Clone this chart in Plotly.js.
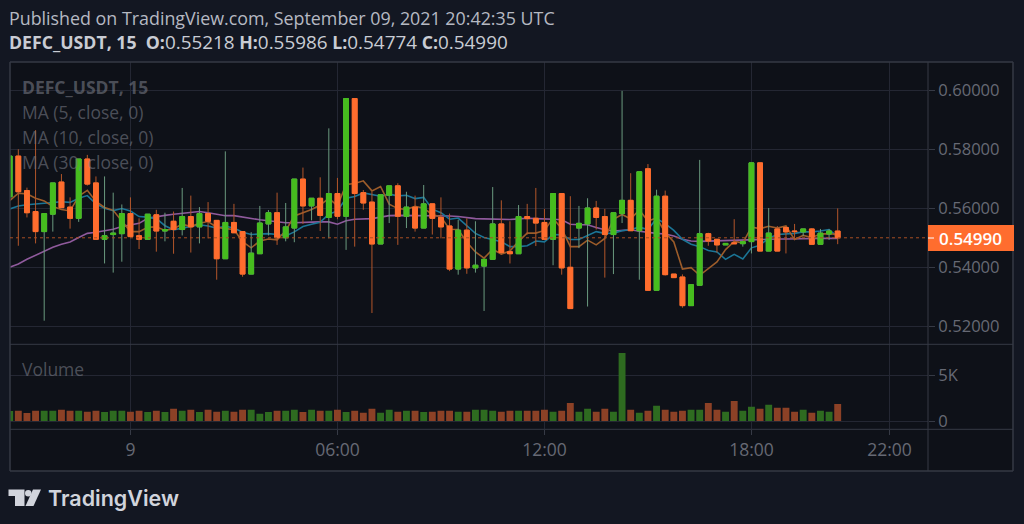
<!DOCTYPE html>
<html><head><meta charset="utf-8">
<script src="https://cdn.plot.ly/plotly-3.0.1.min.js"></script>
<style>html,body{margin:0;padding:0;background:#131722;overflow:hidden}#c{width:1024px;height:524px}</style>
</head><body><div id="c"></div>
<script>
const opens=[.5638,.5776,.5659,.5588,.5520,.5579,.5688,.5603,.5565,.5766,.5685,.5494,.5510,.5513,.5581,.5506,.5494,.5577,.5522,.5555,.5527,.5571,.5536,.5581,.5558,.5428,.5551,.5520,.5376,.5445,.5546,.5584,.5499,.5532,.5698,.5607,.5633,.5568,.5649,.5572,.5971,.5652,.5620,.5478,.5643,.5675,.5572,.5603,.5532,.5614,.5568,.5539,.5393,.5525,.5397,.5403,.5426,.5546,.5452,.5445,.5571,.5565,.5551,.5494,.5649,.5399,.5532,.5546,.5600,.5571,.5510,.5581,.5626,.5523,.5733,.5321,.5640,.5376,.5366,.5269,.5338,.5513,.5494,.5475,.5482,.5479,.5486,.5753,.5454,.5529,.5534,.5522,.5519,.5529,.5477,.5512,.55218];
const highs=[.5776,.5799,.5669,.5864,.5581,.5685,.5715,.5636,.5766,.5780,.5707,.5707,.5652,.5612,.5636,.5565,.5579,.5594,.5584,.5588,.5668,.5642,.5603,.5620,.5558,.5792,.5614,.5520,.5518,.5607,.5593,.5652,.5617,.5698,.5737,.5633,.5704,.5870,.5702,.5971,.5971,.5661,.5655,.5645,.5675,.5684,.5655,.5642,.5678,.5614,.5636,.5581,.5560,.5565,.5555,.5426,.5671,.5626,.5555,.5610,.5614,.5668,.5597,.5649,.5649,.5640,.5607,.5633,.5624,.5597,.5584,.5997,.5718,.5723,.5749,.5662,.5659,.5376,.5375,.5340,.5763,.5516,.5494,.5480,.5562,.5486,.5753,.5753,.5600,.5539,.5539,.5546,.5529,.5532,.5529,.5528,.55986];
const lows=[.5630,.5472,.5568,.5480,.5218,.5520,.5601,.5530,.5553,.5676,.5494,.5412,.5381,.5418,.5503,.5461,.5494,.5452,.5487,.5445,.5507,.5449,.5480,.5497,.5357,.5428,.5516,.5367,.5376,.5445,.5507,.5475,.5487,.5484,.5546,.5558,.5522,.5497,.5562,.5458,.5469,.5594,.5244,.5478,.5549,.5475,.5532,.5520,.5532,.5510,.5497,.5386,.5374,.5377,.5381,.5251,.5426,.5442,.5412,.5445,.5510,.5471,.5494,.5406,.5374,.5259,.5464,.5266,.5527,.5364,.5376,.5549,.5523,.5357,.5321,.5321,.5371,.5364,.5262,.5269,.5338,.5472,.5449,.5475,.5479,.5469,.5446,.5454,.5454,.5454,.5446,.5492,.5505,.5477,.5477,.5492,.54774];
const closes=[.5776,.5655,.5584,.5520,.5581,.5685,.5601,.5565,.5766,.5681,.5494,.5506,.5515,.5581,.5503,.5494,.5579,.5522,.5527,.5527,.5571,.5536,.5581,.5555,.5428,.5551,.5516,.5376,.5447,.5549,.5584,.5499,.5536,.5698,.5607,.5633,.5575,.5649,.5572,.5971,.5649,.5617,.5478,.5645,.5675,.5572,.5603,.5532,.5614,.5565,.5536,.5393,.5525,.5397,.5406,.5426,.5546,.5449,.5445,.5571,.5564,.5549,.5494,.5649,.5397,.5259,.5548,.5600,.5568,.5510,.5584,.5626,.5523,.5723,.5321,.5640,.5374,.5364,.5269,.5340,.5513,.5488,.5475,.5480,.5479,.5486,.5753,.5454,.5515,.5454,.5519,.5520,.5529,.5477,.5515,.5522,.54990];
const volumes=[1100,1140,885,1140,1140,1140,1250,1140,1140,1030,1140,995,1140,1140,1030,1140,995,1140,995,1360,1140,1250,995,1250,1030,1140,1030,1250,1250,810,995,1140,1140,1250,995,1250,1140,1140,1250,995,1140,920,1360,920,1250,1030,1140,1140,995,1030,1140,1140,1030,1030,1250,1250,1140,1030,1140,1140,1140,1140,1250,1030,1140,1990,1030,1360,1030,1360,1030,7510,1250,920,1140,1690,1250,1030,1140,1250,1250,1990,1250,1030,2210,1140,1580,1360,1800,1470,1470,1030,1250,920,1140,1030,1880];
const ma5=[.5625,.5650,.5648,.5633,.5624,.5605,.5595,.5590,.5640,.5660,.5622,.5602,.5592,.5556,.5520,.5520,.5535,.5536,.5524,.5530,.5545,.5537,.5548,.5554,.5535,.5530,.5527,.5486,.5465,.5488,.5495,.5492,.5523,.5573,.5585,.5595,.5610,.5633,.5607,.5680,.5683,.5692,.5658,.5673,.5613,.5598,.5595,.5606,.5599,.5578,.5570,.5528,.5527,.5484,.5451,.5430,.5460,.5444,.5454,.5487,.5515,.5515,.5524,.5565,.5530,.5469,.5469,.5491,.5475,.5497,.5562,.5578,.5563,.5593,.5556,.5566,.5517,.5485,.5393,.5398,.5372,.5395,.5417,.5459,.5487,.5482,.5535,.5530,.5538,.5532,.5539,.5493,.5507,.5500,.5512,.5513,.5510];
const ma10=[.5597,.5607,.5611,.5614,.5616,.5619,.5621,.5619,.5633,.5642,.5614,.5599,.5591,.5598,.5590,.5571,.5569,.5564,.5540,.5526,.5532,.5536,.5543,.5539,.5532,.5538,.5532,.5518,.5510,.5512,.5513,.5510,.5505,.5519,.5537,.5545,.5552,.5579,.5590,.5633,.5639,.5651,.5645,.5640,.5647,.5641,.5643,.5632,.5636,.5596,.5584,.5562,.5566,.5541,.5514,.5500,.5494,.5486,.5469,.5469,.5472,.5488,.5485,.5510,.5509,.5493,.5493,.5507,.5520,.5514,.5515,.5523,.5527,.5535,.5527,.5564,.5547,.5524,.5494,.5477,.5469,.5456,.5451,.5426,.5443,.5427,.5465,.5474,.5498,.5510,.5511,.5514,.5519,.5519,.5522,.5527,.5502];
const ma30=[.5399,.5410,.5426,.5440,.5454,.5467,.5477,.5485,.5500,.5514,.5518,.5523,.5528,.5537,.5543,.5548,.5565,.5571,.5575,.5579,.5582,.5584,.5588,.5584,.5580,.5574,.5574,.5569,.5563,.5560,.5557,.5553,.5550,.5550,.5550,.5552,.5553,.5553,.5545,.5557,.5562,.5564,.5564,.5569,.5574,.5575,.5575,.5574,.5574,.5575,.5575,.5573,.5571,.5567,.5564,.5563,.5562,.5561,.5561,.5563,.5565,.5564,.5564,.5562,.5560,.5545,.5543,.5543,.5534,.5526,.5522,.5523,.5526,.5521,.5517,.5514,.5512,.5505,.5494,.5488,.5487,.5488,.5488,.5491,.5492,.5492,.5493,.5493,.5494,.5495,.5495,.5496,.5496,.5497,.5497,.5497,.5497];
const priceTicks=[.52,.54,.56,.58,.60];
const timeTickBars=[14,38,62,86,102];
const timeTickLabels=['9','06:00','12:00','18:00','22:00'];
const volTicks=[0,5000];
const volTickLabels=['0','5K'];
const lastPrice=.54990;

const bars=opens.map((_,i)=>i);
const UP='#46bd1e',DN='#ff6d2e',WU='#6b9a7f',WD='#b3562a',VU='#2e6b20',VD='#8c4126';
const GRID='#242733',BORDER='#363a45',TXT='#666974';
const FONT='"Open Sans",sans-serif';
const L=10,T=62,R=1013,B=471,W=R-L,H=B-T,SPLITX=928,SPLITY=344.3,BOTY=429.3;
const px=x=>(x-L)/W, py=y=>(B-y)/H;

const traces=[
 {type:'scatter',mode:'lines',x:bars,y:ma30,xaxis:'x',yaxis:'y',line:{color:'#8f5a9c',width:1.6},hoverinfo:'skip'},
 {type:'scatter',mode:'lines',x:bars,y:ma10,xaxis:'x',yaxis:'y',line:{color:'#1b7596',width:1.6},hoverinfo:'skip'},
 {type:'scatter',mode:'lines',x:bars,y:ma5,xaxis:'x',yaxis:'y',line:{color:'#9c5c2a',width:1.6},hoverinfo:'skip'},
 {type:'candlestick',x:bars,open:opens,high:highs,low:lows,close:closes,xaxis:'x',yaxis:'y3',whiskerwidth:0,
  increasing:{line:{color:WU,width:1},fillcolor:UP},decreasing:{line:{color:WD,width:1},fillcolor:DN},hoverinfo:'skip'},
 {type:'candlestick',x:bars,open:opens,close:closes,high:opens.map((o,i)=>Math.max(o,closes[i])),low:opens.map((o,i)=>Math.min(o,closes[i])),xaxis:'x',yaxis:'y3',whiskerwidth:0,
  increasing:{line:{color:UP,width:1},fillcolor:UP},decreasing:{line:{color:DN,width:1},fillcolor:DN},hoverinfo:'skip'},
 {type:'bar',x:bars,y:volumes,xaxis:'x',yaxis:'y2',width:.8,marker:{color:opens.map((o,i)=>closes[i]>=o?VU:VD),line:{width:0}},hoverinfo:'skip'}
];

const lineShape=(x0,y0,x1,y1,color,w)=>({type:'line',xref:'paper',yref:'paper',x0:px(x0),y0:py(y0),x1:px(x1),y1:py(y1),line:{color:color||BORDER,width:w||1}});
const polyShape=(pts,color)=>({type:'path',xref:'paper',yref:'paper',fillcolor:color,line:{width:0},
  path:'M'+pts.map(p=>px(p[0])+','+py(p[1])).join('L')+'Z'});

const shapes=[
 {type:'rect',xref:'paper',yref:'paper',x0:0,y0:0,x1:1,y1:1,fillcolor:'#0e1118',line:{width:0},layer:'below'},
 lineShape(L,T,R,T,BORDER,1.5),lineShape(L,B,R,B,BORDER,1.5),lineShape(L,T,L,B,BORDER,1.5),lineShape(R,T,R,B,BORDER,1.5),
 lineShape(SPLITX,T,SPLITX,B),lineShape(L,SPLITY,R,SPLITY),lineShape(L,BOTY,R,BOTY),
 {type:'line',xref:'paper',yref:'y',x0:0,x1:px(SPLITX),y0:lastPrice,y1:lastPrice,line:{color:'#a84e24',width:1,dash:'dot'}},
 {type:'rect',xref:'paper',yref:'paper',x0:px(SPLITX),x1:px(1014),y0:py(251),y1:py(225),fillcolor:DN,line:{width:0}},
 lineShape(SPLITX,238,934,238,'#ffffff',1),
 // logo
 polyShape([[8.5,489.5],[24.5,489.5],[24.5,506],[15,506],[15,496],[8.5,496]],'#d1d4dc'),
 {type:'circle',xref:'paper',yref:'paper',x0:px(25),x1:px(31.5),y0:py(496.5),y1:py(490),fillcolor:'#d1d4dc',line:{width:0}},
 polyShape([[33,489.5],[41,489.5],[33.5,506],[25.5,506]],'#d1d4dc')
];

const ann=(x,y,text,size,color,extra)=>Object.assign({xref:'paper',yref:'paper',x:px(x),y:py(y),xanchor:'left',yanchor:'middle',showarrow:false,text:text,font:{family:FONT,size:size,color:color}},extra||{});
const WM='rgba(116,119,130,.62)';
const H1='#b6b9c2',H2='#c9ccd4';
const num=s=>'<span style="font-size:18.9px">'+s+'</span>';
const annotations=[
 ann(7,18,'Published on TradingView.com, September 09, 2021 20:42:35 UTC',17.85,H1),
 ann(7,42,'<b>DEFC_USDT, 15  O:</b>'+num('0.55218')+' <b>H:</b>'+num('0.55986')+' <b>L:</b>'+num('0.54774')+' <b>C:</b>'+num('0.54990'),17.7,H2),
 ann(20,87,'<b>DEFC_USDT, 15</b>',17.5,WM),
 ann(20,112,'MA (5, close, 0)',17.5,WM),
 ann(20,137,'MA (10, close, 0)',17.5,WM),
 ann(20,162,'MA (30, close, 0)',17.5,WM),
 ann(20,369,'Volume',17.5,WM),
 ann(937,238,'0.54990',17,'#ffffff',{font:{family:FONT,size:17,color:'#ffffff',weight:600}}),
 ann(46,498,'TradingView',21.5,'#d1d4dc',{font:{family:'Inter,sans-serif',size:21.5,color:'#d1d4dc',weight:600}})
];

const priceRange=[.6-(SPLITY-90)/2950,.6-(T-90)/2950];
const yDomain=[py(SPLITY),1];
const layout={
 width:1024,height:524,margin:{l:L,r:1024-R,t:T,b:524-B,pad:0},
 paper_bgcolor:'#131722',plot_bgcolor:'rgba(0,0,0,0)',showlegend:false,boxmode:'overlay',barmode:'overlay',boxgap:.2,
 font:{family:FONT,color:TXT},
 xaxis:{domain:[0,px(SPLITX)],range:[.035,106.47],anchor:'y2',tickmode:'array',tickvals:timeTickBars,ticktext:timeTickLabels,
   ticks:'outside',ticklen:5,tickcolor:BORDER,showgrid:true,gridcolor:GRID,zeroline:false,showline:false,
   tickfont:{family:FONT,size:17.5,color:TXT},rangeslider:{visible:false},automargin:false},
 yaxis:{domain:yDomain,range:priceRange,side:'right',anchor:'x',tickmode:'array',tickvals:priceTicks,tickformat:'.5f',
   ticks:'outside',ticklen:6,tickcolor:BORDER,showgrid:true,gridcolor:GRID,zeroline:false,showline:false,
   tickfont:{family:FONT,size:16.6,color:TXT},automargin:false},
 yaxis3:{overlaying:'y',range:priceRange,side:'right',visible:false,anchor:'x'},
 yaxis2:{domain:[py(BOTY),py(SPLITY)],range:[-915,8460],side:'right',anchor:'x',tickmode:'array',tickvals:volTicks,ticktext:volTickLabels,
   ticks:'outside',ticklen:6,tickcolor:BORDER,showgrid:true,gridcolor:GRID,zeroline:false,showline:false,
   tickfont:{family:FONT,size:16.6,color:TXT},automargin:false},
 shapes:shapes,annotations:annotations
};
Plotly.newPlot('c',traces,layout,{displayModeBar:false,staticPlot:true});
</script></body></html>
